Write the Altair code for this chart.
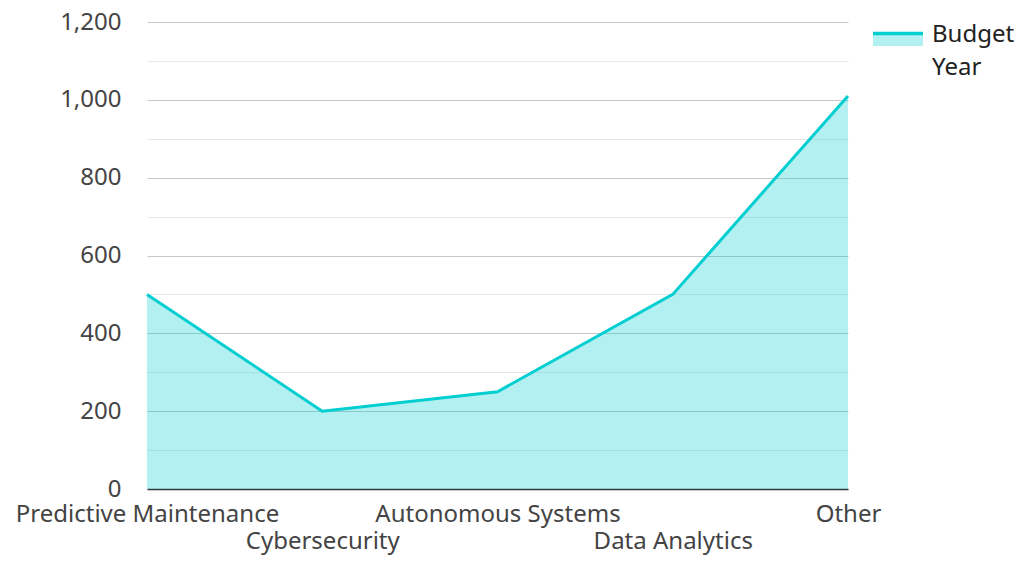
import json
import altair as alt
import pandas as pd

categories = ["Predictive Maintenance", "Cybersecurity", "Autonomous Systems", "Data Analytics", "Other"]
values = [500, 200, 250, 500, 1010]
series_name = "Budget Year"
y_ticks = list(range(0, 1300, 100))

df = pd.DataFrame({"category": categories, "value": values, "series": series_name})
legend_df = pd.DataFrame({"series": [series_name]})

W, H = 701, 467
LINE = "#00CED1"
FILL = "#b2f0f1"
FONT = "Noto Sans"
TEXT = "#444444"

odd_labels = json.dumps(categories[1::2])

x = alt.X(
    "category:N",
    sort=categories,
    scale=alt.Scale(type="point", padding=0),
    axis=alt.Axis(
        title=None,
        labelAngle=0,
        labelExpr=f"indexof({odd_labels}, datum.value) >= 0 ? ['', datum.value] : datum.value",
        labelLineHeight=27,
        labelFontSize=24,
        labelFont=FONT,
        labelColor=TEXT,
        labelPadding=13,
        labelBaseline="top",
        labelLimit=0,
        labelOverlap=False,
        labelFlush=False,
        labelBound=False,
        ticks=False,
        grid=False,
        domainColor="#333333",
        domainWidth=1.5,
    ),
)

y = alt.Y(
    "value:Q",
    scale=alt.Scale(domain=[0, 1200], nice=False),
    axis=alt.Axis(
        title=None,
        values=y_ticks,
        labelExpr="datum.value % 200 == 0 ? format(datum.value, ',') : ''",
        labelFontSize=24,
        labelFont=FONT,
        labelColor=TEXT,
        labelPadding=26,
        ticks=False,
        domain=False,
        grid=True,
        gridColor={"condition": {"test": "datum.value % 200 == 0", "value": "#c8c8c8"}, "value": "#e8e8e8"},
        gridWidth=1,
    ),
)

area = alt.Chart(df).mark_area(color=LINE, opacity=0.3).encode(x=x, y=y)
line = alt.Chart(df).mark_line(color=LINE, strokeWidth=3).encode(x=x, y=y)

leg_rect = alt.Chart(legend_df).mark_rect(color=FILL).encode(
    x=alt.value(726), x2=alt.value(776), y=alt.value(10), y2=alt.value(24)
)
leg_rule = alt.Chart(legend_df).mark_rule(color=LINE, strokeWidth=3.5).encode(
    x=alt.value(726), x2=alt.value(776), y=alt.value(11.5)
)
leg_text = alt.Chart(legend_df).mark_text(
    align="left", baseline="alphabetic", font=FONT, fontSize=24, color="#222222",
    lineBreak=" ", lineHeight=33,
).encode(x=alt.value(785), y=alt.value(20), text="series:N")

chart = alt.layer(area, line, leg_rect, leg_rule, leg_text).properties(
    width=W,
    height=H,
    autosize=alt.AutoSizeParams(type="none"),
    padding={"left": 139, "top": 14, "right": 166, "bottom": 66},
).configure(font=FONT).configure_view(stroke=None)

chart.save("out.html", embed_options={"renderer": "svg", "actions": False})
